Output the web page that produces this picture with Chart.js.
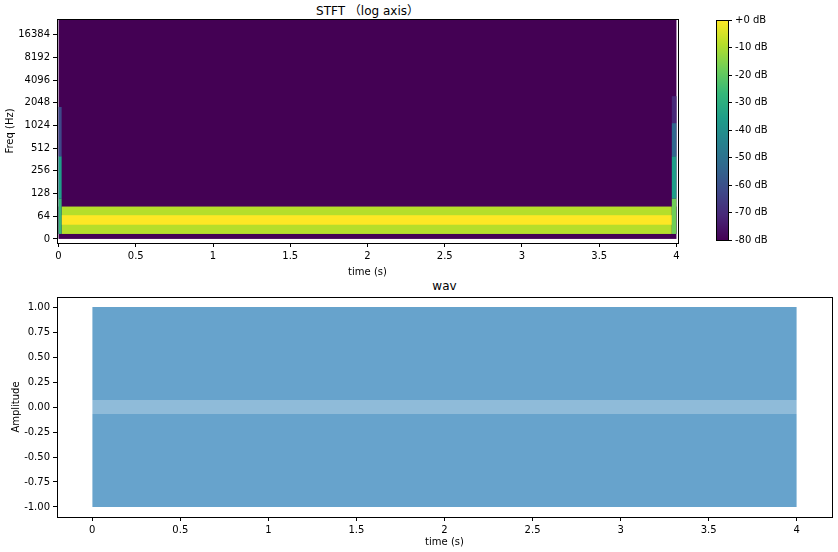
<!DOCTYPE html><html><head><meta charset="utf-8">
<script src="https://cdn.jsdelivr.net/npm/chart.js@4"></script>
<style>body{margin:0;background:#fff;width:838px;height:552px;position:relative;overflow:hidden;font-family:"DejaVu Sans"}
canvas{position:absolute}.t{position:absolute;font-size:12px;color:#000;text-align:center}</style></head><body>
<div class="t" style="left:57px;width:621px;top:1px;font-family:'DejaVu Sans','Noto Sans CJK SC'">STFT （log axis）</div>
<div class="t" style="left:57px;width:775px;top:279px">wav</div>
<div style="position:absolute;left:0;top:10px;width:700px;height:272px"><canvas id="c1"></canvas></div>
<div style="position:absolute;left:700px;top:11px;width:100px;height:238px"><canvas id="c2"></canvas></div>
<div style="position:absolute;left:0;top:280px;width:838px;height:272px"><canvas id="c3"></canvas></div>
<script>
// ---- data ----
const freqTicks=[0,64,128,256,512,1024,2048,4096,8192,16384];
const timeTicks=[0,0.5,1,1.5,2,2.5,3,3.5,4];
// spectrogram cells: [t0,t1,f0,f1,dB]  (f in Hz)
const cellT0=[0,0,0.02,0.02,0,0,0,3.97,3.97,3.97,3.97];
const cellT1=[4,4,3.97,3.97,0.02,0.02,0.02,4,4,4,4];
const cellF0=[0,14,14,40,14,110,400,14,110,400,1100];
const cellF1=[40000,86,86,66,110,400,1800,110,400,1100,2500];
const cellDB=[-80,-80,-6,-1,-30,-40,-62,-20,-40,-55,-68];
const dbTicks=[0,-10,-20,-30,-40,-50,-60,-70,-80];
const wavT=[0,4];
const wavUpper=[1,1];
const wavLower=[-1,-1];
const wavMidUpper=[0.07,0.07];
const wavMidLower=[-0.07,-0.07];
const ampTicks=[1,0.75,0.5,0.25,0,-0.25,-0.5,-0.75,-1];
// ---- helpers ----
const viridis=['#440154','#482878','#3e4989','#31688e','#26828e','#1f9e89','#35b779','#6ece58','#b5de2b','#fde725'];
function vcol(db){let u=Math.max(0,Math.min(1,(db+80)/80))*(viridis.length-1);return viridis[Math.round(u)];}
function fmap(f){return f<64?f/64:1+Math.log2(f/64);}
const font={family:'DejaVu Sans',size:10};
const tk={color:'#000',font};
const gridTick={drawOnChartArea:false,drawTicks:true,tickLength:4,color:'#000'};
const frame={id:'frame',afterDraw(c){const a=c.chartArea,x=c.ctx;x.save();x.strokeStyle='#000';x.lineWidth=1;x.strokeRect(Math.round(a.left)+.5,Math.round(a.top)+.5,Math.round(a.right-a.left),Math.round(a.bottom-a.top));x.restore();}};
const spec={id:'spec',beforeDatasetsDraw(c){const X=c.scales.x,Y=c.scales.y,x=c.ctx,a=c.chartArea;x.save();x.beginPath();x.rect(a.left,a.top,a.right-a.left,a.bottom-a.top);x.clip();
for(let i=0;i<cellDB.length;i++){const l=X.getPixelForValue(cellT0[i]),r=X.getPixelForValue(cellT1[i]);const b=Y.getPixelForValue(fmap(cellF0[i])),t=Y.getPixelForValue(fmap(cellF1[i]));x.fillStyle=vcol(cellDB[i]);x.fillRect(l,t,r-l,b-t);}x.restore();}};
Chart.defaults.animation=false;Chart.defaults.responsive=true;Chart.defaults.maintainAspectRatio=false;
new Chart(document.getElementById('c1'),{type:'scatter',data:{datasets:[{data:[]}]},plugins:[spec,frame],
options:{layout:{padding:{right:22,top:0}},plugins:{legend:{display:false},tooltip:{enabled:false}},
scales:{x:{type:'linear',min:-0.01,max:4.01,afterBuildTicks(s){s.ticks=timeTicks.map(v=>({value:v}));},ticks:{...tk,callback:v=>String(v),maxRotation:0},grid:gridTick,border:{display:false},title:{display:true,text:'time (s)',color:'#000',font,padding:{top:0}},afterFit(s){s.height=39;}},
y:{type:'linear',min:-0.18,max:9.69,afterBuildTicks(s){s.ticks=freqTicks.map(f=>({value:fmap(f)}));},ticks:{...tk,callback:(v,i)=>String(freqTicks[i])},grid:gridTick,border:{display:false},title:{display:true,text:'Freq (Hz)',color:'#000',font,padding:{top:4,bottom:0}},afterFit(s){s.width=57;}}}}});
new Chart(document.getElementById('c2'),{type:'bar',data:{labels:['c'],datasets:[{data:[[-80,0]],categoryPercentage:1,barPercentage:1,
backgroundColor(ctx){const a=ctx.chart.chartArea;if(!a)return '#440154';const g=ctx.chart.ctx.createLinearGradient(0,a.bottom,0,a.top);viridis.forEach((c,i)=>g.addColorStop(i/(viridis.length-1),c));return g;}}]},plugins:[frame],
options:{layout:{padding:{left:16,top:2,bottom:3,right:0}},plugins:{legend:{display:false},tooltip:{enabled:false}},
scales:{x:{display:false},y:{position:'right',min:-80,max:0,afterBuildTicks(s){s.ticks=dbTicks.map(v=>({value:v}));},ticks:{...tk,callback:v=>(v===0?'+0':v)+' dB'},grid:gridTick,border:{display:false},afterFit(s){s.width=72;}}}}});
new Chart(document.getElementById('c3'),{type:'line',data:{datasets:[
{data:wavT.map((t,i)=>({x:t,y:wavUpper[i]})),borderWidth:0,pointRadius:0,fill:'+1',backgroundColor:'rgba(31,119,180,0.68)'},
{data:wavT.map((t,i)=>({x:t,y:wavMidUpper[i]})),borderWidth:0,pointRadius:0,fill:'+1',backgroundColor:'rgba(31,119,180,0.5)'},
{data:wavT.map((t,i)=>({x:t,y:wavMidLower[i]})),borderWidth:0,pointRadius:0,fill:'+1',backgroundColor:'rgba(31,119,180,0.68)'},
{data:wavT.map((t,i)=>({x:t,y:wavLower[i]})),borderWidth:0,pointRadius:0,fill:false}]},plugins:[frame],
options:{layout:{padding:{top:17,right:6}},plugins:{legend:{display:false},tooltip:{enabled:false}},
scales:{x:{type:'linear',min:-0.2,max:4.2,afterBuildTicks(s){s.ticks=timeTicks.map(v=>({value:v}));},ticks:{...tk,callback:v=>String(v),maxRotation:0},grid:gridTick,border:{display:false},title:{display:true,text:'time (s)',color:'#000',font,padding:{top:0}},afterFit(s){s.height=35;}},
y:{type:'linear',min:-1.1,max:1.1,afterBuildTicks(s){s.ticks=ampTicks.map(v=>({value:v}));},ticks:{...tk,callback:v=>v.toFixed(2)},grid:gridTick,border:{display:false},title:{display:true,text:'Amplitude',color:'#000',font,padding:{top:10,bottom:0}},afterFit(s){s.width=57;}}}}});
</script></body></html>
